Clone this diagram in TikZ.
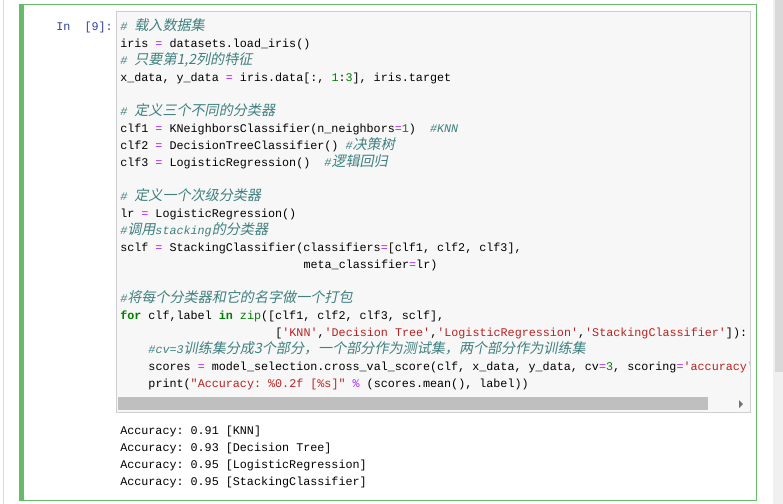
\documentclass[tikz,border=0pt]{standalone}
\usepackage{fontspec}
\setmonofont{Liberation Mono}
\newfontfamily\zhfont[FakeSlant=0.2,Scale=1.2]{Noto Sans CJK SC}
\definecolor{cmc}{HTML}{408080}
\definecolor{opc}{HTML}{AA22FF}
\definecolor{kwc}{HTML}{008000}
\definecolor{strc}{HTML}{BA2121}
\definecolor{promptc}{HTML}{303F9F}
\definecolor{cellg}{HTML}{66BB6A}
\newcommand{\cm}[1]{{\color{cmc}\itshape #1}}
\newcommand{\zh}[1]{{\zhfont #1}}
\newcommand{\op}[1]{{\color{opc}#1}}
\newcommand{\kw}[1]{{\color{kwc}\bfseries #1}}
\newcommand{\nm}[1]{{\color{kwc}#1}}
\newcommand{\st}[1]{{\color{strc}#1}}
\begin{document}
\begin{tikzpicture}[x=0.75pt,y=-0.75pt,
  code/.style={anchor=base west,inner sep=0pt,font=\ttfamily\fontsize{8.8}{10}\selectfont}]
\useasboundingbox (0,0) rectangle (783,504);
\fill[white] (0,0) rectangle (783,504);
\draw[black!15] (3,0) -- (3,504);
% right scrollbar
\fill[black!6] (773,0) rectangle (783,504);
\fill[black!15] (775,0) rectangle (783,372);
% cell
\draw[cellg] (19,4.5) rectangle (756,500);
\fill[cellg] (19,4) rectangle (24,500.5);
\node[anchor=base east,inner sep=0pt,font=\ttfamily\fontsize{8.8}{10}\selectfont,text=promptc] (prompt) at (113,30) {In\ \ [9]:};
% code box
\draw[fill=black!3,draw=black!19] (116,11) rectangle (750,412);
\fill[black!25] (118,397) rectangle (708,410);
\fill[black!55] (739,400) -- (739,408) -- (743,404) -- cycle;
\begin{scope}
\clip (117,12) rectangle (749,396);
\def\L#1#2#3#4{\node[code] (#1) at ({120+7.05*#2},{30+17*(#3-1)}) {#4};}
\L{l1}{0}{1}{\cm{\# \zh{载入数据集}}}
\L{l2}{0}{2}{iris \op{=} datasets.load\_iris()}
\L{l3}{0}{3}{\cm{\# \zh{只要第1,2列的特征}}}
\L{l4}{0}{4}{x\_data, y\_data \op{=} iris.data[:, \nm{1}:\nm{3}], iris.target}
\L{l6}{0}{6}{\cm{\# \zh{定义三个不同的分类器}}}
\L{l7}{0}{7}{clf1 \op{=} KNeighborsClassifier(n\_neighbors\op{=}\nm{1})\ \ \cm{\#KNN}}
\L{l8}{0}{8}{clf2 \op{=} DecisionTreeClassifier() \cm{\#\zh{决策树}}}
\L{l9}{0}{9}{clf3 \op{=} LogisticRegression()\ \ \cm{\#\zh{逻辑回归}}}
\L{l11}{0}{11}{\cm{\# \zh{定义一个次级分类器}}}
\L{l12}{0}{12}{lr \op{=} LogisticRegression()}
\L{l13}{0}{13}{\cm{\#\zh{调用}stacking\zh{的分类器}}}
\L{l14}{0}{14}{sclf \op{=} StackingClassifier(classifiers\op{=}[clf1, clf2, clf3],}
\L{l15}{26}{15}{meta\_classifier\op{=}lr)}
\L{l17}{0}{17}{\cm{\#\zh{将每个分类器和它的名字做一个打包}}}
\L{l18}{0}{18}{\kw{for} clf,label \kw{in} \nm{zip}([clf1, clf2, clf3, sclf],}
\L{l19}{22}{19}{[\st{'KNN'},\st{'Decision Tree'},\st{'LogisticRegression'},\st{'StackingClassifier'}]):}
\L{l20}{4}{20}{\cm{\#cv=3\zh{训练集分成3个部分，一个部分作为测试集，两个部分作为训练集}}}
\L{l21}{4}{21}{scores \op{=} model\_selection.cross\_val\_score(clf, x\_data, y\_data, cv\op{=}\nm{3}, scoring\op{=}\st{'accuracy'})}
\L{l22}{4}{22}{print(\st{"Accuracy: \%0.2f [\%s]"} \op{\%} (scores.mean(), label))}
\end{scope}
\node[code] (o1) at (120,434) {Accuracy: 0.91 [KNN]};
\node[code] (o2) at (120,451) {Accuracy: 0.93 [Decision Tree]};
\node[code] (o3) at (120,468) {Accuracy: 0.95 [LogisticRegression]};
\node[code] (o4) at (120,485) {Accuracy: 0.95 [StackingClassifier]};
\end{tikzpicture}
\end{document}
